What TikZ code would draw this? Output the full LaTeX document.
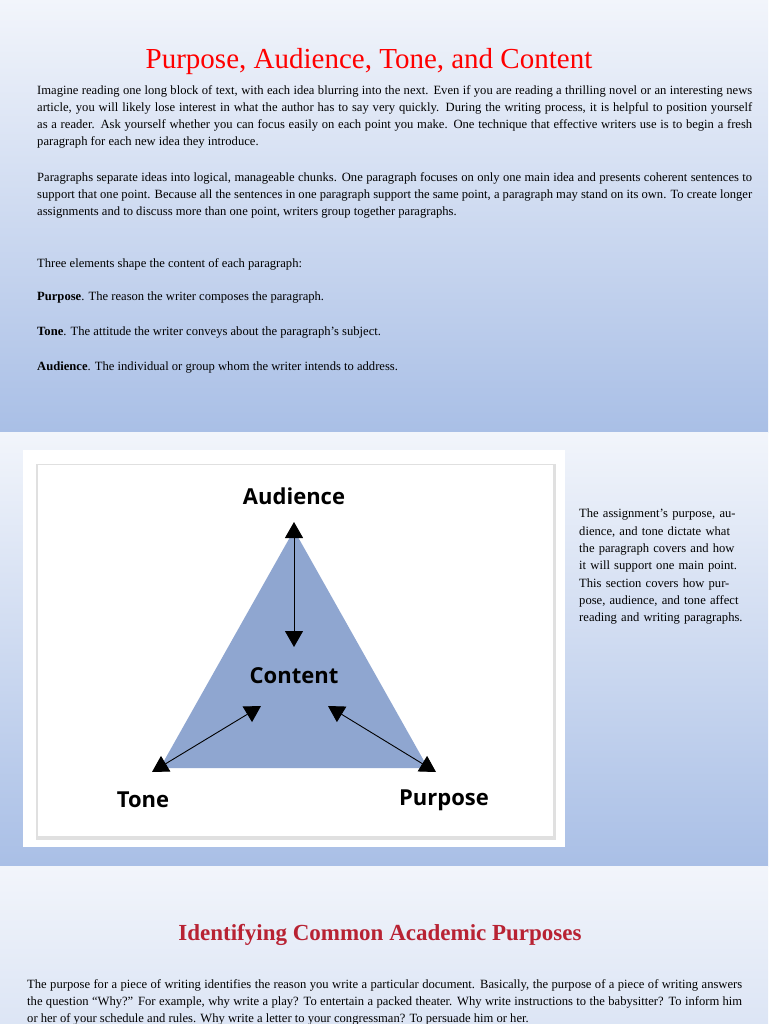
\documentclass[tikz,border=0pt]{standalone}
\usepackage{fontspec}
\usetikzlibrary{arrows.meta}
\setmainfont{Liberation Serif}
\newfontfamily\labfont{Open Sans}
\begin{document}
\begin{tikzpicture}[x=1pt,y=-1pt,
  para/.style={anchor=north west,inner sep=0pt,text width=715pt,align=justify,font=\fontsize{12.6}{17.3}\selectfont},
  lab/.style={font=\labfont\bfseries\fontsize{22}{24}\selectfont},
  dbl/.style={line width=0.9pt,{Triangle[length=16pt,width=18pt]}-{Triangle[length=16pt,width=18pt]}}]
\definecolor{bgtop}{HTML}{F2F5FB}
\definecolor{bgbot}{HTML}{A9BFE6}
\definecolor{tri}{HTML}{8FA6D0}
\definecolor{headred}{HTML}{B82233}
\useasboundingbox (0,0) rectangle (768,1024);
\clip (0,0) rectangle (768,1024);
\shade[top color=bgtop,bottom color=bgbot] (0,0) rectangle (768,432);
\shade[top color=bgtop,bottom color=bgbot] (0,432) rectangle (768,866);
\shade[top color=bgtop,bottom color=bgtop!70!bgbot] (0,866) rectangle (768,1024);
\node[text=red,font=\fontsize{29}{32}\selectfont] (title) at (369,62) {Purpose, Audience, Tone, and Content};
\node[para] (p1) at (37,85) {Imagine reading one long block of text, with each idea blurring into the next. Even if you are reading a thrilling novel or an interesting news article, you will likely lose interest in what the author has to say very quickly. During the writing process, it is helpful to position yourself as a reader. Ask yourself whether you can focus easily on each point you make. One technique that effective writers use is to begin a fresh paragraph for each new idea they introduce.};
\node[para] (p2) at (37,172) {Paragraphs separate ideas into logical, manageable chunks. One paragraph focuses on only one main idea and presents coherent sentences to support that one point. Because all the sentences in one paragraph support the same point, a paragraph may stand on its own. To create longer assignments and to discuss more than one point, writers group together paragraphs.};
\node[para] (p3) at (37,258) {Three elements shape the content of each paragraph:};
\node[para] (p4) at (37,292) {\textbf{Purpose}. The reason the writer composes the paragraph.};
\node[para] (p5) at (37,327) {\textbf{Tone}. The attitude the writer conveys about the paragraph’s subject.};
\node[para] (p6) at (37,362) {\textbf{Audience}. The individual or group whom the writer intends to address.};
% image
\fill[white] (23,450) rectangle (565,847);
\fill[black!25] (38,467) rectangle (555,839);
\fill[black!12] (36,464) rectangle (556,840);
\fill[white] (38,465) rectangle (553,836);
\fill[tri] (294,530) -- (160,768) -- (428,768) -- cycle;
\node[lab] (aud) at (294,496) {Audience};
\node[lab] (con) at (294,676) {Content};
\node[lab] (tone) at (143,800) {Tone};
\node[lab] (pur) at (444,800) {Purpose};
\coordinate (va) at (294,522);
\coordinate (vt) at (152,772);
\coordinate (vp) at (436,772);
\coordinate (ca) at (294,647);
\coordinate (ct) at (261,706);
\coordinate (cp) at (328,706);
\draw[dbl] (va) -- (ca);
\draw[dbl] (vt) -- (ct);
\draw[dbl] (vp) -- (cp);
\node[anchor=north west,inner sep=0pt,text width=165pt,align=left,font=\fontsize{12.6}{17.3}\selectfont] (side) at (579,509) {The assignment’s purpose, audience, and tone dictate what the paragraph covers and how it will support one main point. This section covers how purpose, audience, and tone affect reading and writing paragraphs.};
\node[text=headred,font=\bfseries\fontsize{23}{26}\selectfont] (h2) at (380,935) {Identifying Common Academic Purposes};
\node[para] (p7) at (27,979) {The purpose for a piece of writing identifies the reason you write a particular document. Basically, the purpose of a piece of writing answers the question “Why?” For example, why write a play? To entertain a packed theater. Why write instructions to the babysitter? To inform him or her of your schedule and rules. Why write a letter to your congressman? To persuade him or her.};
\end{tikzpicture}
\end{document}
